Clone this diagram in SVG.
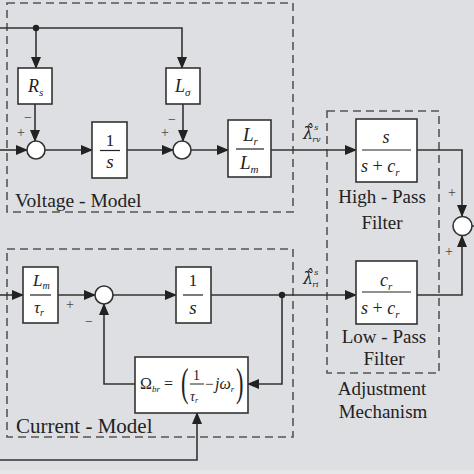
<svg xmlns="http://www.w3.org/2000/svg" width="474" height="474" viewBox="0 0 474 474">
<defs>
<marker id="ah" markerWidth="12" markerHeight="10" refX="11" refY="5" orient="auto" markerUnits="userSpaceOnUse">
<path d="M0,0 L12,5 L0,10 Z" fill="#222"/>
</marker>
<style>
.ln{fill:none;stroke:#333;stroke-width:1.6}
.bx{fill:#fff;stroke:#333;stroke-width:1.6}
.ds{fill:none;stroke:#555;stroke-width:1.6;stroke-dasharray:8,5}
.sm{fill:#fff;stroke:#333;stroke-width:1.6}
.t{font-family:"Liberation Serif","Times New Roman",serif;fill:#222}
.m{font-family:"Liberation Serif","Times New Roman",serif;font-style:italic;fill:#222}
.sg{font-family:"Liberation Serif","Times New Roman",serif;fill:#444;font-size:14px}
.lam{font-family:"DejaVu Serif","Liberation Serif",serif;font-style:italic;fill:#222}
</style>
</defs>
<rect width="474" height="474" fill="#dedfe2"/>
<rect y="470" width="474" height="4" fill="#e6e7e9"/>

<g id="voltage-model">
<rect class="ds" x="7" y="3" width="286" height="209"/>
<text class="t" x="15" y="207" font-size="19.5">Voltage - Model</text>
</g>
<g id="current-model">
<rect class="ds" x="7" y="249" width="286" height="188"/>
<text class="t" x="16" y="433" font-size="21">Current - Model</text>
</g>
<g id="adjustment-mechanism">
<rect class="ds" x="327" y="111" width="112" height="262"/>
<text class="t" x="382" y="395" font-size="19" text-anchor="middle">Adjustment</text>
<text class="t" x="383" y="418" font-size="19" text-anchor="middle">Mechanism</text>
</g>

<g id="connectors">
<path class="ln" d="M0,28 H182 V68" marker-end="url(#ah)"/>
<path class="ln" d="M36,28 V68" marker-end="url(#ah)"/>
<path class="ln" d="M35,104 V141" marker-end="url(#ah)"/>
<path class="ln" d="M0,150 H27" marker-end="url(#ah)"/>
<path class="ln" d="M45,150 H92" marker-end="url(#ah)"/>
<path class="ln" d="M127,150 H173" marker-end="url(#ah)"/>
<path class="ln" d="M183,104 V141" marker-end="url(#ah)"/>
<path class="ln" d="M191,150 H228" marker-end="url(#ah)"/>
<path class="ln" d="M271,150 H356" marker-end="url(#ah)"/>
<path class="ln" d="M417,150 H462 V216" marker-end="url(#ah)"/>
<path class="ln" d="M417,295 H462 V236" marker-end="url(#ah)"/>
<path class="ln" d="M472,226 H474"/>
<path class="ln" d="M0,295 H23" marker-end="url(#ah)"/>
<path class="ln" d="M58,295 H95" marker-end="url(#ah)"/>
<path class="ln" d="M113,295 H176" marker-end="url(#ah)"/>
<path class="ln" d="M211,295 H356" marker-end="url(#ah)"/>
<path class="ln" d="M282,295 V384 H248" marker-end="url(#ah)"/>
<path class="ln" d="M135,384 H104 V304" marker-end="url(#ah)"/>
<path class="ln" d="M0,460 H197 V413" marker-end="url(#ah)"/>
<circle cx="36" cy="28" r="3.2" fill="#222"/>
<circle cx="282" cy="295" r="3.2" fill="#222"/>
<text class="sg" x="17" y="137">+</text>
<text class="sg" x="24" y="122">−</text>
<text class="sg" x="161" y="137">+</text>
<text class="sg" x="168" y="124">−</text>
<text class="sg" x="448" y="197">+</text>
<text class="sg" x="445" y="256">+</text>
<text class="sg" x="66" y="309">+</text>
<text class="sg" x="85" y="326">−</text>
<g id="lambda-rv">
<text class="lam" x="303" y="139" font-size="16">λ̃̂<tspan font-size="8" dx="1" dy="-9">s</tspan><tspan font-size="8" dx="-6" dy="12">rv</tspan></text>
</g>
<g id="lambda-ri">
<text class="lam" x="303" y="284" font-size="16">λ̃̂<tspan font-size="8" dx="1" dy="-9">s</tspan><tspan font-size="8" dx="-6" dy="12">ri</tspan></text>
</g>
</g>

<g id="Rs">
<rect class="bx" x="18" y="68" width="34" height="36"/>
<text class="m" x="28" y="92" font-size="18">R<tspan font-size="11" dy="4">s</tspan></text>
</g>
<g id="Lsigma">
<rect class="bx" x="166" y="68" width="34" height="36"/>
<text class="m" x="175" y="92" font-size="18">L<tspan font-size="11" dy="4">σ</tspan></text>
</g>
<g id="sum1"><circle class="sm" cx="36" cy="150" r="9"/></g>
<g id="int-v">
<rect class="bx" x="92" y="122" width="35" height="56"/>
<text class="t" x="110" y="146" font-size="17" text-anchor="middle">1</text>
<line x1="100" y1="150.5" x2="120" y2="150.5" stroke="#222" stroke-width="1.2"/>
<text class="m" x="110" y="168" font-size="19" text-anchor="middle">s</text>
</g>
<g id="sum2"><circle class="sm" cx="182" cy="150" r="9"/></g>
<g id="LrLm">
<rect class="bx" x="228" y="120" width="43" height="57"/>
<text class="m" x="243" y="141" font-size="19">L<tspan font-size="11" dy="4">r</tspan></text>
<line x1="236" y1="149" x2="264" y2="149" stroke="#222" stroke-width="1.2"/>
<text class="m" x="240" y="169" font-size="19">L<tspan font-size="11" dy="4">m</tspan></text>
</g>
<g id="high-pass">
<rect class="bx" x="356" y="119" width="61" height="63"/>
<text class="m" x="386" y="143" font-size="18" text-anchor="middle">s</text>
<line x1="362" y1="150" x2="411" y2="150" stroke="#222" stroke-width="1.2"/>
<text class="m" x="361" y="172" font-size="18">s <tspan font-style="normal">+</tspan> c<tspan font-size="11" dy="4">r</tspan></text>
<text class="t" x="382" y="203" font-size="19" text-anchor="middle">High - Pass</text>
<text class="t" x="382" y="229" font-size="19" text-anchor="middle">Filter</text>
</g>
<g id="low-pass">
<rect class="bx" x="356" y="261" width="61" height="63"/>
<text class="m" x="380" y="286" font-size="18">c<tspan font-size="11" dy="4">r</tspan></text>
<line x1="362" y1="292" x2="411" y2="292" stroke="#222" stroke-width="1.2"/>
<text class="m" x="361" y="314" font-size="18">s <tspan font-style="normal">+</tspan> c<tspan font-size="11" dy="4">r</tspan></text>
<text class="t" x="384" y="343" font-size="19" text-anchor="middle">Low - Pass</text>
<text class="t" x="384" y="365" font-size="19" text-anchor="middle">Filter</text>
</g>
<g id="sum3"><circle class="sm" cx="462.5" cy="226" r="9.5"/></g>
<g id="LmTau">
<rect class="bx" x="23" y="267" width="35" height="56"/>
<text class="m" x="33" y="286" font-size="17">L<tspan font-size="10" dy="3">m</tspan></text>
<line x1="30" y1="295" x2="51" y2="295" stroke="#222" stroke-width="1.2"/>
<text class="m" x="34" y="313" font-size="17">τ<tspan font-size="10" dy="3">r</tspan></text>
</g>
<g id="sum4"><circle class="sm" cx="104" cy="295" r="9"/></g>
<g id="int-c">
<rect class="bx" x="176" y="267" width="35" height="56"/>
<text class="t" x="193" y="286" font-size="17" text-anchor="middle">1</text>
<line x1="183" y1="295" x2="203" y2="295" stroke="#222" stroke-width="1.2"/>
<text class="m" x="193" y="314" font-size="19" text-anchor="middle">s</text>
</g>
<g id="Omega">
<rect class="bx" x="135" y="357" width="113" height="56"/>
<text class="t" x="140" y="389" font-size="16">Ω<tspan font-style="italic" font-size="9" dy="3">br</tspan><tspan dy="-3"> =</tspan></text>
<text class="t" transform="translate(181,396) scale(0.8,1.45)" font-size="28">(</text>
<text class="t" x="193" y="380" font-size="14">1</text>
<line x1="190" y1="384" x2="204" y2="384" stroke="#222" stroke-width="1"/>
<text class="m" x="190" y="401" font-size="14">τ<tspan font-size="8" dy="2">r</tspan></text>
<text class="t" x="205" y="389" font-size="15">−</text>
<text class="m" x="215" y="389" font-size="16">jω<tspan font-size="9" dy="3">r</tspan></text>
<text class="t" transform="translate(236,396) scale(0.8,1.45)" font-size="28">)</text>
</g>
</svg>
